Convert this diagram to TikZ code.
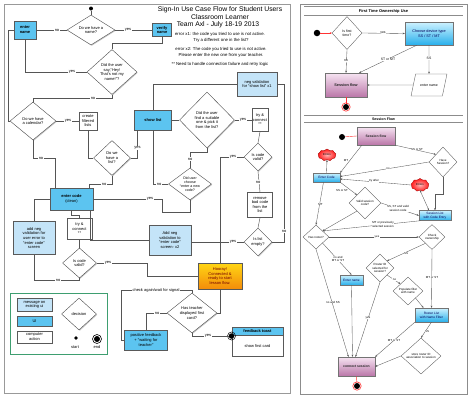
\documentclass[tikz,border=0pt]{standalone}
\usepackage{fontspec}
\setmainfont{Liberation Sans}
\usetikzlibrary{shapes.geometric,shapes.symbols,shadows,arrows.meta,calc}
\definecolor{uicyan}{RGB}{92,196,240}
\definecolor{msgblue}{RGB}{196,228,248}
\definecolor{lgreen}{RGB}{62,158,112}
\definecolor{lncol}{RGB}{85,85,85}
\definecolor{cyanhi}{RGB}{205,242,255}
\definecolor{cyanlo}{RGB}{40,175,235}
\definecolor{pinkhi}{RGB}{246,228,242}
\definecolor{pinklo}{RGB}{186,118,168}
\definecolor{orghi}{RGB}{255,214,20}
\definecolor{orglo}{RGB}{244,140,10}
\begin{document}
\begin{tikzpicture}[x=1pt,y=-1pt,
  fsz/.style={font=\fontsize{4}{4.6}\selectfont},
  shd/.style={drop shadow={shadow xshift=0.8pt,shadow yshift=-0.8pt,opacity=0.45}},
  base/.style={draw=black!65,line width=0.4pt,align=center,inner sep=0.5pt,fsz,shd},
  uibox/.style={base,fill=uicyan},
  uibold/.style={base,fill=uicyan,font=\fontsize{4}{4.6}\selectfont\bfseries},
  msgbox/.style={base,fill=msgblue},
  actbox/.style={base,fill=white},
  hoor/.style={base,top color=orghi,bottom color=orglo,text=red!45!black},
  dec/.style={diamond,draw=black!70,line width=0.4pt,fill=white,align=center,inner sep=0pt,fsz,shd},
  lbl/.style={fill=white,inner sep=0.6pt,fsz},
  note/.style={font=\fontsize{4.3}{5}\selectfont,inner sep=0pt},
  ttl/.style={font=\fontsize{6.8}{8}\selectfont,inner sep=0pt},
  ln/.style={draw=lncol,line width=0.45pt},
  blackdot/.style={circle,fill=black,inner sep=0pt,minimum size=#1},
  rcyan/.style={draw=black!55,line width=0.35pt,top color=cyanhi,bottom color=cyanlo,align=center,inner sep=0.5pt,font=\fontsize{3.2}{3.8}\selectfont,text=blue!35!black,shd},
  rpink/.style={draw=black!55,line width=0.35pt,top color=pinkhi,bottom color=pinklo,align=center,inner sep=0.5pt,font=\fontsize{3.4}{4}\selectfont\bfseries,text=black!85,shd},
  rdec/.style={diamond,draw=black!65,line width=0.35pt,fill=white,align=center,inner sep=0pt,font=\fontsize{3}{3.5}\selectfont},
  rlbl/.style={fill=white,inner sep=0.4pt,font=\fontsize{2.9}{3.3}\selectfont,align=center},
  rlblb/.style={fill=white,inner sep=0.4pt,font=\fontsize{3.4}{4}\selectfont,align=center},
  rar/.style={draw=black!65,line width=0.35pt,-{Stealth[length=2.2pt,width=1.8pt]}},
  rarb/.style={rar,{Stealth[length=2.2pt,width=1.8pt]}-{Stealth[length=2.2pt,width=1.8pt]}},
  redln/.style={draw=red!80,line width=0.4pt},
  cloudn/.style={cloud,cloud puffs=9,cloud puff arc=115,aspect=1.5,draw=red!60!black,line width=0.3pt,inner color=red!30!white,outer color=red!90,inner sep=0pt,font=\fontsize{2.8}{3.2}\selectfont}
]
\useasboundingbox (0,0) rectangle (474,400);
\fill[white] (0,0) rectangle (474,400);

%================ LEFT PANEL =================
\draw[black!40,line width=0.6pt] (4,4) rectangle (290,393);

\node[ttl] (t1) at (220,9.5) {Sign-In Use Case Flow for Student Users};
\node[ttl] (t2) at (220,17) {Classroom Learner};
\node[ttl] (t3) at (218,24.5) {Team Axl - July 18-19 2013};
\node[note] (n1) at (220,34) {error x1: the code you tried to use is not active.};
\node[note] (n2) at (221,40) {Try a different one in the list?};
\node[note] (n3) at (221,49) {error x2: The code you tried to use is not active.};
\node[note] (n4) at (221,55) {Please enter the new one from your teacher.};
\node[note] (n5) at (220,64.5) {** Need to handle connection failure and retry logic};

% nodes
\node[blackdot=4pt] (s0) at (91,8.5) {};
\node[dec,minimum width=48,minimum height=30,aspect=1.6] (qname) at (91,30) {Do we have a\\name?};
\node[uibold,minimum width=22,minimum height=18] (entername) at (25,30) {enter\\name};
\node[uibold,minimum width=19,minimum height=13] (verify) at (162,30) {verify\\name};
\node[dec,minimum width=50,minimum height=45,aspect=1.1] (qsay) at (112,72) {Did the user\\say,``Hey!\\That's not my\\name!''?};
\node[dec,minimum width=46,minimum height=38,aspect=1.2] (qcal) at (33,121) {Do we have\\a calendar?};
\node[actbox,minimum width=18,minimum height=18] (create) at (88,121) {create\\filtered\\lists};
\node[dec,minimum width=37,minimum height=35,aspect=1.05] (qlist) at (112,158) {Do we\\have a\\list?};
\node[uibold,minimum width=37,minimum height=20] (showlist) at (153,120) {show list};
\node[msgbox,minimum width=40,minimum height=24] (negval1) at (257,84) {neg validation\\for ``show list'' x1};
\node[dec,minimum width=55,minimum height=56,aspect=1] (qfind) at (207,120) {Did the user\\find a suitable\\one \& pick it\\from the list?};
\node[actbox,minimum width=16,minimum height=23] (try2) at (260,120) {try \&\\connect\\**};
\node[dec,minimum width=28,minimum height=28] (qvalid2) at (258,157) {Is code\\valid?};
\node[actbox,minimum width=25,minimum height=25] (remove) at (260,205) {remove\\bad code\\from the\\list};
\node[dec,minimum width=28,minimum height=28] (qempty) at (258,242) {Is list\\empty?};
\node[dec,minimum width=43,minimum height=32,aspect=1.3,font=\fontsize{3.6}{4.1}\selectfont] (qchoose) at (190,184) {Did user\\choose\\``enter a new\\code?};
\node[uibox,minimum width=43,minimum height=22] (entercode) at (71.5,199) {\textbf{enter code}\\(clean)};
\node[msgbox,minimum width=42,minimum height=33] (addneg1) at (34,238) {add neg\\validation for\\user error to\\``enter code''\\screen};
\node[actbox,minimum width=25,minimum height=21] (try1) at (79.5,229) {try \&\\connect\\**};
\node[dec,minimum width=34,minimum height=30,aspect=1.1] (qvalid1) at (79.5,263) {Is code\\valid?};
\node[msgbox,minimum width=42,minimum height=30] (addneg2) at (170,240) {Add neg\\validation to\\``enter code''\\screen- x2};
\node[hoor,minimum width=44,minimum height=26] (hooray) at (220,276) {Hooray!\\Connected \&\\ready to start\\lesson flow.};
\node[dec,minimum width=50,minimum height=40,aspect=1.25] (qteacher) at (192,313) {Has teacher\\displayed first\\card?};
\node[uibox,minimum width=43,minimum height=20] (posfb) at (146,340) {positive feedback\\+ ``waiting for\\teacher''};
\node[actbox,minimum width=51,minimum height=29] (toast) at (257.5,341.5) {};
\node[draw=black!65,line width=0.4pt,fill=uicyan,minimum width=51,minimum height=8,inner sep=0pt,anchor=north,font=\fontsize{4}{4.6}\selectfont\bfseries] (toasthead) at (toast.north) {feedback toast};
\node[fsz] (toastbody) at (257.5,346) {show first card};
\node[blackdot=5.5pt] (endt) at (231.5,336) {};
\draw[black,line width=0.5pt] (endt.center) circle (4);

% connectors
\draw[ln] (s0) -- (qname.north);
\draw[ln] (qname.west) -- (entername.east);
\node[lbl] (l1) at (57,30) {no};
\draw[ln] (qname.east) -- (verify.west);
\node[lbl] (l2) at (128,30) {yes};
\draw[ln] (verify.south) |- ($(qsay.north)+(0,-6)$) -- (qsay.north);
\draw[ln] (qsay.west) -| (entername.south);
\node[lbl] (l3) at (72,72) {yes};
\draw[ln] (qsay.south) |- ($(qcal.north)+(0,-4)$) -- (qcal.north);
\node[lbl] (l4) at (93,98) {no};
\draw[ln] (entername.west) -- ++(-6,0) |- (qcal.west);
\draw[ln] (qcal.east) -- (create.west);
\node[lbl] (l5) at (68,121) {yes};
\draw[ln] (create.south) |- (qlist.west);
\draw[ln] (qlist.east) -| ($(showlist.south west)+(3,0)$);
\node[lbl] (l6) at (137.5,148) {yes};
\draw[ln] (qlist.south) -- ++(0,9) -| ($(entercode.north east)+(-4,0)$);
\node[lbl] (l7) at (104,184.5) {no};
\draw[ln] (qcal.south) -- ++(0,18) -| ($(entercode.north west)+(5,0)$);
\node[lbl] (l8) at (41,158) {no};
\draw[ln] (negval1.west) -| (showlist.north);
\draw[ln] (showlist.east) -- (qfind.west);
\draw[ln] (qfind.east) -- (try2.west);
\node[lbl] (l9) at (243,120) {yes};
\draw[ln] (try2.south) -- (qvalid2.north);
\draw[ln] (qvalid2.west) -| (hooray.north);
\node[lbl] (l10) at (233,157) {yes};
\draw[ln] (qvalid2.south) -- (remove.north);
\node[lbl] (l11) at (258,182) {no};
\draw[ln] (remove.south) -- (qempty.north);
\draw[ln] (qempty.east) -- ++(12,0) |- (negval1.east);
\node[lbl] (l12) at (284,231) {no};
\draw[ln] (qempty.west) -- (qempty.west -| addneg2.east);
\node[lbl] (l13) at (233,242) {yes};
\draw[ln] (addneg2.west) -| ($(entercode.south east)+(-3,0)$);
\draw[ln] (qfind.south) -- ++(0,4) -| (qchoose.north);
\node[lbl] (l14) at (190,159) {no};
\draw[ln] (qchoose.west) -| (showlist.south);
\node[lbl] (l15) at (159,184) {no};
\draw[ln] (qchoose.south) -- ++(0,12) -- ++(-28,0) |- (entercode.east);
\node[lbl] (l16) at (150,199) {yes};
\draw[ln] (entercode.west) -| (addneg1.north);
\draw[ln] (entercode.south) -- ++(0,5) -| (try1.north);
\draw[ln] (try1.south) -- (qvalid1.north);
\draw[ln] (qvalid1.east) -| ($(hooray.west)+(-51,0)$) -- (hooray.west);
\node[lbl] (l17) at (108,263) {yes};
\draw[ln] (qvalid1.south) |- ($(addneg1.south)+(0,26)$) -- (addneg1.south);
\node[lbl] (l18) at (58,280.5) {no};
\draw[ln] (hooray.south) |- (qteacher.east);
\draw[ln] (qteacher.west) -| (posfb.north);
\node[lbl] (l19) at (157,313) {no};
\draw[ln] (posfb.west) -- ++(-3,0) |- ($(qteacher.north)+(0,-3)$) -- (qteacher.north);
\node[lbl] (l20) at (156,290) {check again/wait for signal};
\draw[ln] (qteacher.south) |- (endt);
\node[lbl] (l21) at (208,336) {yes};

% legend
\node[draw=lgreen,line width=1pt,minimum width=97,minimum height=61,inner sep=0pt] (legend) at (58.5,323.5) {};
\node[msgbox,minimum width=35,minimum height=13] (lmsg) at (34.5,305) {message on\\existing ui};
\node[uibox,minimum width=35,minimum height=10] (lui) at (34.5,321) {UI};
\node[actbox,minimum width=35,minimum height=12] (lact) at (34.5,337) {computer\\action};
\node[dec,minimum width=35,minimum height=32] (ldec) at (79,314) {decision};
\node[blackdot=3.6pt] (lstart) at (76,338) {};
\node[fsz] (lstartt) at (75,347.5) {start};
\node[blackdot=6pt] (lend) at (97,339) {};
\draw[black,line width=0.6pt] (lend.center) circle (4.5);
\node[fsz] (lendt) at (97,347.5) {end};

%================ RIGHT PANEL =================
\draw[black!45,line width=0.6pt] (300,4) rectangle (467,394);
\draw[black!45,line width=0.6pt] (304,6.5) -- (463,6.5);
\draw[black!45,line width=0.5pt] (304,15.5) -- (463,15.5);
\node[font=\fontsize{4}{4.6}\selectfont\bfseries] (h1) at (383.5,11) {First Time Ownership Use};
\draw[black!45,line width=0.6pt] (304,115) -- (463,115);
\draw[black!45,line width=0.5pt] (304,122.5) -- (463,122.5);
\node[font=\fontsize{3.6}{4.2}\selectfont\bfseries] (h2) at (383.5,118.8) {Session Flow};

% first time
\node[blackdot=6.5pt] (fstart) at (317,33) {};
\node[rdec,minimum width=30,minimum height=33,font=\fontsize{3.5}{4}\selectfont] (qfirst) at (347,33) {Is first\\time?};
\node[rcyan,minimum width=48,minimum height=23,font=\fontsize{3.8}{4.4}\selectfont] (choose) at (429,33.5) {Choose device type\\SS / ST / MT};
\node[rpink,minimum width=42,minimum height=24,font=\fontsize{3.8}{4.4}\selectfont\bfseries] (fsess) at (346,85) {Session flow};
\node[trapezium,trapezium left angle=65,trapezium right angle=115,trapezium stretches=true,draw=black!65,line width=0.35pt,fill=white,minimum width=36,minimum height=22,font=\fontsize{3.5}{4}\selectfont] (fname) at (429,85) {enter name};
\node[blackdot=6pt] (fend) at (346,107) {};
\draw[red!80,line width=0.6pt] (fend.center) circle (4.2);

\draw[red!80,line width=0.4pt,-{Stealth[length=2pt,width=1.8pt]}] (fstart) -- (qfirst.west);
\draw[rar] (qfirst.east) -- (choose.west);
\node[rlblb] (f1) at (383,33) {yes};
\draw[rar] (qfirst.south) -- (fsess.north);
\node[rlblb] (f2) at (346,61) {no};
\draw[rar] ([xshift=12]choose.south west) -- ([xshift=-8]fsess.north east);
\node[rlblb] (f3) at (388,59.5) {ST or MT};
\draw[rar] (choose.south) -- (fname.north);
\node[rlblb] (f4) at (429,58) {SS};
\draw[rar] (fname.west) -- (fsess.east);
\draw[redln] (fsess.south) -- (fend);

% session flow
\node[blackdot=6pt] (sstart) at (342,137) {};
\node[rpink,minimum width=38,minimum height=18] (ssess) at (376,136) {Session flow};
\node[cloudn,minimum width=18,minimum height=12] (err1) at (327,155) {Errors};
\node[rcyan,minimum width=27,minimum height=9] (ecode) at (326.5,177.5) {Enter Code};
\node[rdec,minimum width=28,minimum height=30] (qhave) at (443,162) {Have\\Session?};
\node[cloudn,minimum width=18,minimum height=13] (err2) at (420,185) {Errors};
\node[rdec,minimum width=32,minimum height=32] (qvs) at (365,203) {Valid session\\code?};
\node[rcyan,minimum width=32,minimum height=10] (slist) at (435,215.5) {Session List\\with Code Entry};
\node[rdec,minimum width=26,minimum height=24] (qros) at (316,237) {Has roster?};
\node[rdec,minimum width=26,minimum height=25] (qown) at (432,237) {Check\\ownership};
\node[rdec,minimum width=28,minimum height=28] (qrid) at (380,268) {Roster ID\\selected for\\session?};
\node[rdec,minimum width=30,minimum height=28] (qpop) at (408,291) {Populate filter\\with name};
\node[rcyan,minimum width=33,minimum height=14] (rlist) at (431.5,315) {Roster List\\with Name Filter};
\node[rcyan,minimum width=23,minimum height=10] (ename) at (351.5,280) {Enter name};
\node[rpink,minimum width=37,minimum height=19] (conn) at (356.5,366.5) {connect session};
\node[rdec,minimum width=40,minimum height=36] (qstore) at (421,356) {store roster ID\\association to session};
\node[blackdot=6pt] (send) at (357,386) {};
\draw[red!80,line width=0.6pt] (send.center) circle (4.2);

\draw[redln] (sstart) -- (ssess.west);
\draw[rar] ([xshift=5]ssess.south west) -- (ecode.north east);
\node[rlbl] (r1) at (346,160) {MT};
\draw[rar] (ssess.south east) -- (qhave.north west);
\node[rlbl] (r2) at (417,149) {SS or ST};
\draw[rar] (ecode.north) -- (err1.south);
\draw[rar] (qhave.west) -- ([yshift=1]ecode.east);
\node[rlbl] (r3) at (388,168.5) {no};
\draw[rar] (err2.west) -- ([yshift=-1.5]ecode.east);
\node[rlbl] (r4) at (374,181) {try after};
\draw[rar] (qhave.south) -- ++(0,17) -| (slist.north);
\draw[rarb] (err2.south) -- ([xshift=-6]slist.north);
\draw[rar] (ecode.south east) -- (qvs.north west);
\node[rlbl] (r5) at (342,190) {SS or ST};
\draw[rar] (qvs.east) -- (slist.west);
\node[rlbl] (r6) at (398,208.5) {SS, ST and valid\\session code};
\draw[rar] ([xshift=-3]ecode.south) -- (qros.north);
\node[rlbl] (r7) at (320.5,204) {MT};
\draw[rar] (qvs.south west) -- (qros.north east);
\draw[rar] ([xshift=2]slist.south west) -- (qros.north east);
\node[rlbl] (r8) at (383,224.5) {MT or previously\\selected session};
\draw[rar] (qros.east) -- (qown.west);
\node[rlbl] (r9) at (377,237) {yes};
\draw[rar] (qown.south west) -- (qrid.north east);
\node[rlbl] (r10) at (406,253) {SS};
\draw[rar] (qown.south) -- (rlist.north);
\node[rlbl] (r11) at (432,277) {MT or ST};
\draw[rar] (qrid.south east) -- (qpop.north west);
\node[rlbl] (r12) at (394.5,279.5) {no};
\draw[rar] (qpop.south east) -- ([xshift=-8]rlist.north);
\draw[rar] (qros.south east) -- (ename.north);
\node[rlbl] (r13) at (338,259) {no and\\MT or ST};
\draw[rar] (qros.south) -- ([xshift=-8]conn.north);
\node[rlbl] (r14) at (333,302) {no and SS};
\draw[rar] (ename.south) -- ([xshift=-4]conn.north);
\draw[rar] (qrid.south) -- ([xshift=-1]conn.north);
\node[rlbl] (r15) at (368,318) {yes};
\draw[rar] (rlist.south west) -- (conn.north east);
\node[rlbl] (r16) at (394,340) {MT or ST};
\draw[rar] (rlist.south) -- (qstore.north);
\node[rlbl] (r17) at (427,331) {SS};
\draw[rar] (qstore.west) -- (conn.east);
\draw[redln] (conn.south) -- (send);
\end{tikzpicture}
\end{document}
